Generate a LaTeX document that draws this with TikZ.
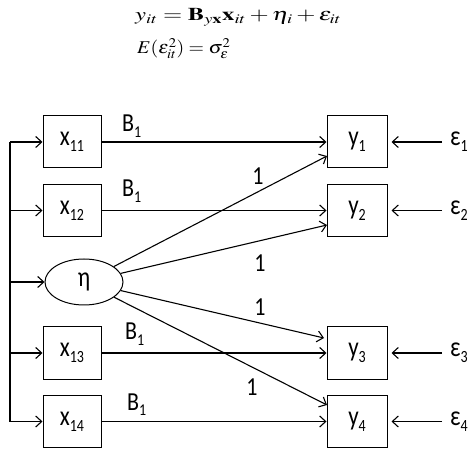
\documentclass[tikz,border=0pt]{standalone}
\usepackage{mathptmx}
\usepackage[no-math]{fontspec}
\setmainfont{Carlito}
\usetikzlibrary{arrows.meta,shapes.geometric}
\newcommand{\subtxt}[1]{\raisebox{-5pt}{\fontsize{14}{14}\selectfont #1}}
\newcommand{\tallA}[1]{\scalebox{1}[1.22]{#1}}
\newcommand{\tallB}[1]{\scalebox{1}[1.18]{#1}}
\tikzset{
  box/.style={draw, line width=1pt, minimum width=58pt, minimum height=52pt, inner sep=0pt, font=\fontsize{23}{28}\selectfont},
  ybox/.style={box, minimum width=60pt},
  lat/.style={draw, ellipse, line width=1pt, minimum width=78pt, minimum height=46pt, inner sep=0pt, font=\fontsize{23}{28}\selectfont},
  elbl/.style={font=\fontsize{23}{28}\selectfont, inner sep=0pt},
  blbl/.style={font=\fontsize{22}{26}\selectfont, inner sep=0pt, anchor=base west},
  lbl/.style={font=\fontsize{22}{26}\selectfont, inner sep=0pt},
  conn/.style={line width=1.1pt, -{Straight Barb[length=6pt,width=11pt,line width=1.1pt]}},
  bus/.style={line width=1.1pt},
  eq/.style={font=\fontsize{18}{20}\selectfont, inner sep=0pt, anchor=base west}
}
\begin{document}
\begin{tikzpicture}[x=1pt,y=-1pt]
\useasboundingbox (0,0) rectangle (474,454);
% equations
\node[eq] (eq1) at (135,21) {\scalebox{1.37}[1]{$y_{it} = \mathbf{B}_{y\mathbf{x}}\mathbf{x}_{it} + \eta_i + \varepsilon_{it}$}};
\node[eq] (eq2) at (137,54) {\scalebox{1.1}[1]{$E(\varepsilon_{it}^2) = \sigma_\varepsilon^2$}};
% left boxes
\node[box] (x11) at (72,142) {\tallA{x\subtxt{11}}};
\node[box] (x12) at (72,210.5) {\tallA{x\subtxt{12}}};
\node[lat] (eta) at (84,282) {\tallA{η}};
\node[box] (x13) at (72,353) {\tallA{x\subtxt{13}}};
\node[box] (x14) at (72,421.5) {\tallA{x\subtxt{14}}};
% right boxes
\node[ybox] (y1) at (357,142) {\tallA{y\subtxt{1}}};
\node[ybox] (y2) at (357,210.5) {\tallA{y\subtxt{2}}};
\node[ybox] (y3) at (357,353) {\tallA{y\subtxt{3}}};
\node[ybox] (y4) at (357,421.5) {\tallA{y\subtxt{4}}};
% errors
\node[elbl] (e1) at (459,142) {\tallA{ε\subtxt{1}}};
\node[elbl] (e2) at (459,210.5) {\tallA{ε\subtxt{2}}};
\node[elbl] (e3) at (459,353) {\tallA{ε\subtxt{3}}};
\node[elbl] (e4) at (459,421.5) {\tallA{ε\subtxt{4}}};
\coordinate (e1s) at (442,142);
\coordinate (e2s) at (442,210.5);
\coordinate (e3s) at (442,353);
\coordinate (e4s) at (442,421.5);
\draw[conn] (e1s) -- ([xshift=4pt]y1.east);
\draw[conn] (e2s) -- ([xshift=4pt]y2.east);
\draw[conn] (e3s) -- ([xshift=4pt]y3.east);
\draw[conn] (e4s) -- ([xshift=4pt]y4.east);
% bus
\coordinate (b1) at (10,142);
\coordinate (b2) at (10,210.5);
\coordinate (b3) at (10,282);
\coordinate (b4) at (10,353);
\coordinate (b5) at (10,421.5);
\draw[bus] (b1) -- (b5);
\draw[conn] (b1) -- (x11.west);
\draw[conn] (b2) -- (x12.west);
\draw[conn] (b3) -- (eta.west);
\draw[conn] (b4) -- (x13.west);
\draw[conn] (b5) -- (x14.west);
% regressions
\draw[conn] (x11.east) -- (y1.west);
\draw[conn] (x12.east) -- (y2.west);
\draw[conn] (x13.east) -- (y3.west);
\draw[conn] (x14.east) -- (y4.west);
\node[blbl] (B1) at (122,132) {\tallB{B\subtxt{1}}};
\node[blbl] (B2) at (122,197) {\tallB{B\subtxt{1}}};
\node[blbl] (B3) at (125,340) {\tallB{B\subtxt{1}}};
\node[blbl] (B4) at (127,410) {\tallB{B\subtxt{1}}};
% loadings
\coordinate (t1) at (327,156);
\coordinate (t2) at (327,225);
\coordinate (t3) at (324,338);
\coordinate (t4) at (327,405);
\draw[conn] (eta) -- (t1);
\draw[conn] (eta) -- (t2);
\draw[conn] (eta) -- (t3);
\draw[conn] (eta) -- (t4);
\node[lbl] (l1) at (258,176) {\tallB{1}};
\node[lbl] (l2) at (260,263) {\tallB{1}};
\node[lbl] (l3) at (260,307) {\tallB{1}};
\node[lbl] (l4) at (252,387) {\tallB{1}};
\end{tikzpicture}
\end{document}
